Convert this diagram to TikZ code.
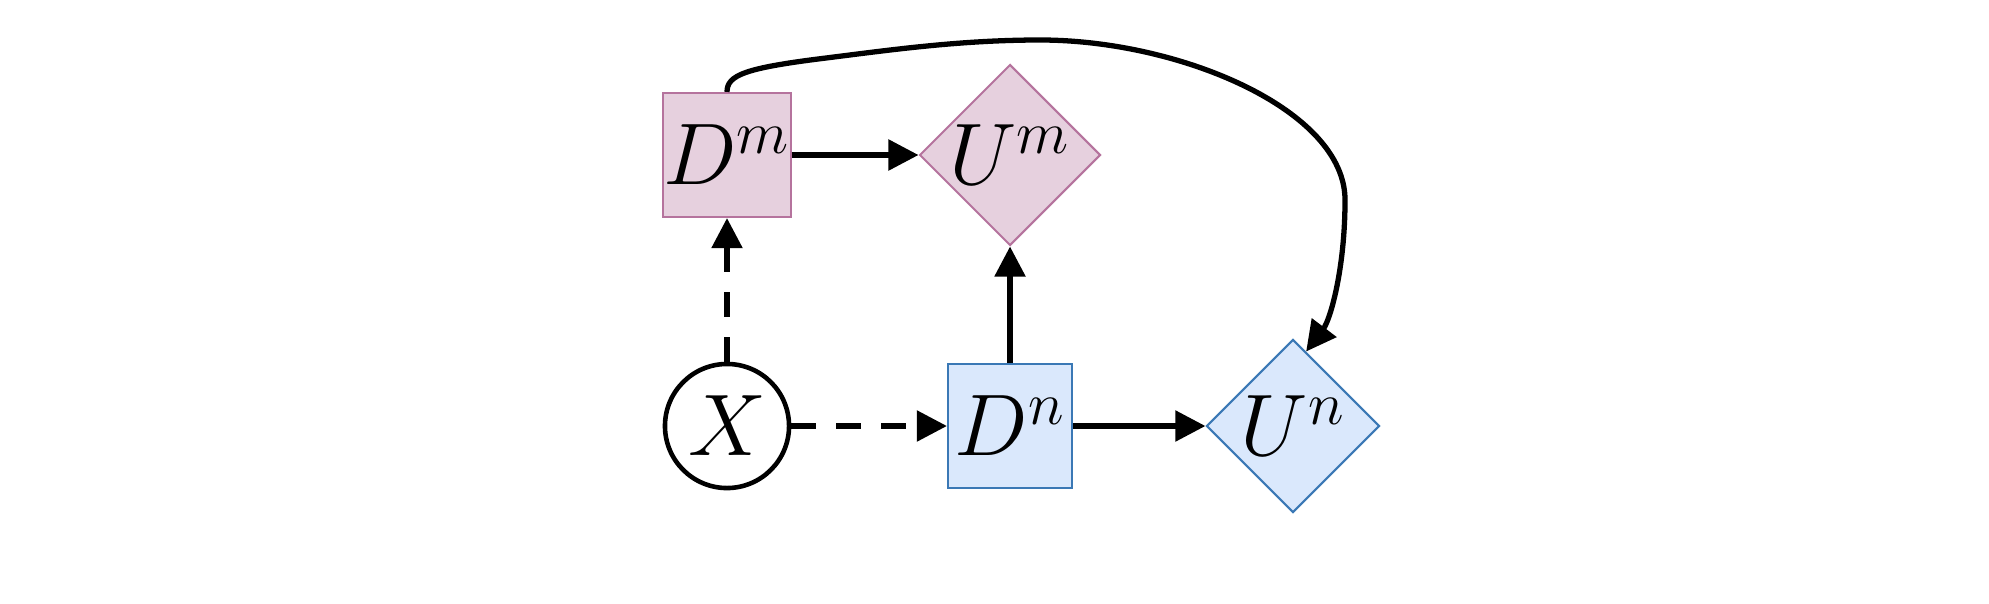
\documentclass[tikz,border=0pt]{standalone}
\usepackage{tikz}
\usetikzlibrary{arrows.meta,shapes.geometric}

\definecolor{pinkfill}{HTML}{E6D0DE}
\definecolor{pinkline}{HTML}{B5739D}
\definecolor{bluefill}{HTML}{DAE8FC}
\definecolor{blueline}{HTML}{3A78B5}

\begin{document}
\begin{tikzpicture}[x=0.01cm,y=-0.01cm,line width=1.5pt,
    >={Triangle[length=0.3cm,width=0.3cm]},font=\fontsize{23}{27}\selectfont]
    \tikzstyle{chance}=[circle,draw=black,fill=white,minimum size=1.24cm,inner sep=0pt,line width=1.3pt]
    \tikzstyle{decision}=[rectangle,minimum size=1.24cm,inner sep=0pt,line width=0.6pt]
    \tikzstyle{utility}=[diamond,aspect=1,minimum size=1.73cm,inner sep=0pt,line width=0.6pt]
    \tikzstyle{dashedge}=[dash pattern=on 0.25cm off 0.2cm]
    \useasboundingbox (0,0) rectangle (1989,603);

    \node[decision,draw=pinkline,fill=pinkfill] (D-m) at (727,155) {$D^m$};
    \node[utility,draw=pinkline,fill=pinkfill] (U-m) at (1010,155) {$U^m$};
    \node[chance] (X) at (727,426) {$X$};
    \node[decision,draw=blueline,fill=bluefill] (D-n) at (1010,426) {$D^n$};
    \node[utility,draw=blueline,fill=bluefill] (U-n) at (1293,426) {$U^n$};

    \foreach \from/\to in {D-m.east/U-m.west, D-n.north/U-m.south, D-n.east/U-n.west}
        \draw[->] (\from) -- (\to);

    \draw[->,dashedge] (X.north) -- (D-m.south);
    \draw[->,dashedge] (X.east) -- (D-n.west);

    \draw[->] (D-m.north) .. controls (727,75) and (745,68) .. (826,58)
        .. controls (890,50) and (960,40) .. (1040,40)
        .. controls (1180,40) and (1345,110) .. (1345,200)
        .. controls (1345,270) and (1330,320) .. (U-n.80);
\end{tikzpicture}
\end{document}
